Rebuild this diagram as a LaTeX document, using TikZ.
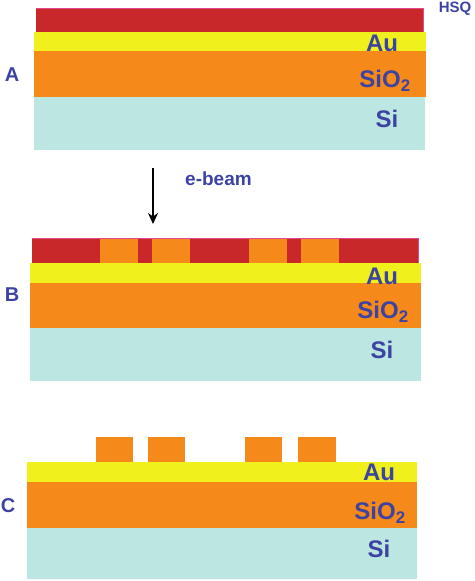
\documentclass[tikz,border=0pt]{standalone}
\usepackage{fontspec}
\setmainfont{Liberation Sans}
\usetikzlibrary{arrows.meta}

\definecolor{hsqred}{HTML}{C8282A}
\definecolor{auyellow}{HTML}{F0F01C}
\definecolor{oxorange}{HTML}{F5891A}
\definecolor{sicyan}{HTML}{BCE6E2}
\definecolor{labelblue}{HTML}{3C43A2}
\definecolor{hsqpink}{HTML}{E04A8C}

\begin{document}
\begin{tikzpicture}[x=1pt,y=-1pt,
    mat/.style={text=labelblue,font=\bfseries\fontsize{24}{24}\selectfont,inner sep=0pt},
    step label/.style={text=labelblue,font=\bfseries\fontsize{20}{20}\selectfont,inner sep=0pt}]
    \useasboundingbox(0,0)rectangle(474,581);

    % A: full stack with HSQ
    \fill[hsqred](36,8)rectangle(423,32);
    \draw[hsqpink,line width=0.6pt](36,8)--(423,8)--(423,32);
    \fill[auyellow](34,32)rectangle(426,51);
    \fill[oxorange](34,51)rectangle(426,97);
    \fill[sicyan](34,97)rectangle(425,150);
    \node[step label](lblA)at(12,75){A};
    \node[text=labelblue,font=\bfseries\fontsize{15}{15}\selectfont,inner sep=0pt](hsqA)at(455,9){HSQ};
    \node[mat](auA)at(382,43){Au};
    \node[mat](oxA)at(385,81){SiO\textsubscript{2}};
    \node[mat](siA)at(387,119){Si};

    % exposure
    \coordinate(beamtop)at(153,168);
    \coordinate(beambot)at(153,224);
    \draw[-{Stealth[length=11pt,width=10pt]},line width=1.6pt](beamtop)--(beambot);
    \node[text=labelblue,font=\bfseries\fontsize{19}{19}\selectfont,inner sep=0pt,anchor=west](ebeam)at(185,179){e-beam};

    % B: exposed HSQ
    \fill[hsqred](32,238)rectangle(418,263);
    \draw[hsqpink,line width=0.6pt](32,238)--(418,238)--(418,263);
    \foreach \xa/\xb in {100/138,152/190,249/287,301/339}
        \fill[oxorange](\xa,239)rectangle(\xb,263);
    \fill[auyellow](30,263)rectangle(421,283);
    \fill[oxorange](30,283)rectangle(421,328);
    \fill[sicyan](30,328)rectangle(421,381);
    \node[step label](lblB)at(12,295){B};
    \node[mat](auB)at(382,276){Au};
    \node[mat](oxB)at(383,312){SiO\textsubscript{2}};
    \node[mat](siB)at(382,350){Si};

    % C: developed lines
    \foreach \xa/\xb in {96/133,148/185,245/282,298/336}
        \fill[oxorange](\xa,437)rectangle(\xb,462);
    \fill[auyellow](27,462)rectangle(417,482);
    \fill[oxorange](27,482)rectangle(417,528);
    \fill[sicyan](27,528)rectangle(417,579);
    \node[step label](lblC)at(8,506){C};
    \node[mat](auC)at(379,472){Au};
    \node[mat](oxC)at(380,513){SiO\textsubscript{2}};
    \node[mat](siC)at(379,549){Si};
\end{tikzpicture}
\end{document}
